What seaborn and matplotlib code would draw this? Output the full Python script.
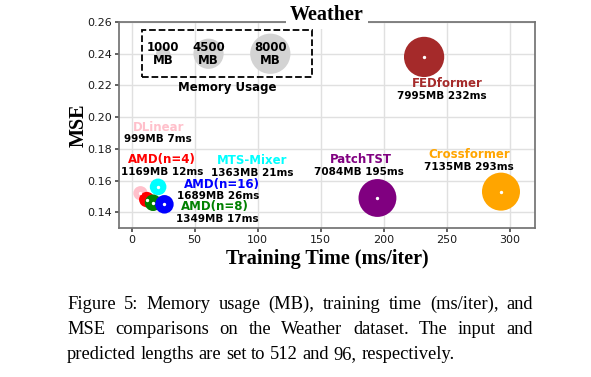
import pandas as pd
import seaborn as sns
import matplotlib.pyplot as plt
from matplotlib.patches import Rectangle

# data
models = ['FEDformer', 'PatchTST', 'Crossformer', 'DLinear',
          'AMD(n=4)', 'MTS-Mixer', 'AMD(n=8)', 'AMD(n=16)']
train_time = [232, 195, 293, 7, 12, 21, 17, 26]
mse = [0.238, 0.149, 0.153, 0.152, 0.148, 0.156, 0.146, 0.145]
memory = [7995, 7084, 7135, 999, 1169, 1363, 1349, 1689]
colors = ['#a52a2a', '#800080', '#ffa500', '#ffc0cb',
          '#ff0000', '#00ffff', '#008000', '#0000ff']

legend_mem = [1000, 4500, 8000]
legend_x = [25, 61, 110]
legend_y = 0.24

x_ticks = [0, 50, 100, 150, 200, 250, 300]
y_ticks = [0.14, 0.16, 0.18, 0.20, 0.22, 0.24, 0.26]

caption = ["Figure 5: Memory usage (MB), training time (ms/iter), and",
           "MSE comparisons on the Weather dataset. The input and",
           "predicted lengths are set to 512 and 96, respectively."]

# label offsets in points (name, detail)
name_off = [(17, -19), (-12, 28), (-23, 27), (13, 47.5),
            (11, 29), (68, 19), (44.5, -3), (41.5, 14.5)]
detail_off = [(13, -28), (-13, 19), (-23, 18), (12.5, 38.7),
              (11, 20), (67.5, 10), (46, -11.5), (39, 6)]

AREA = 0.105  # marker area (pt^2) per MB

df = pd.DataFrame({'model': models, 'time': train_time, 'mse': mse, 'mem': memory})

sns.set_theme(style='whitegrid', rc={
    'axes.edgecolor': '0.45', 'grid.color': '#e0e0e0',
    'xtick.bottom': True, 'ytick.left': True,
    'xtick.color': '0.3', 'ytick.color': '0.3',
    'xtick.major.size': 3, 'ytick.major.size': 3,
    'text.color': 'black', 'axes.labelcolor': 'black',
})
plt.rcParams['font.family'] = ['DejaVu Sans']

fig = plt.figure(figsize=(5.91, 3.77), dpi=100)
ax = fig.add_axes([0.2014, 0.395, 0.7039, 0.5465])

sns.scatterplot(data=df, x='time', y='mse', hue='model', palette=colors,
                size='mem', sizes=(0, 8000 * AREA), size_norm=(0, 8000),
                linewidth=0, alpha=1, legend=False, ax=ax, zorder=3)
ax.scatter(df['time'], df['mse'], s=2, c='white', zorder=4)

# memory usage legend
ax.scatter(legend_x, [legend_y] * 3, s=[m * AREA for m in legend_mem],
           c='lightgray', linewidths=0, zorder=3)
for lx, m in zip(legend_x, legend_mem):
    ax.text(lx, legend_y, f'{m}\nMB', ha='center', va='center',
            fontsize=8.5, fontweight='bold', linespacing=1.0, zorder=5)
ax.add_patch(Rectangle((8, 0.2252), 135, 0.03, fill=False, ls='--',
                       lw=1.3, ec='black', zorder=5))
ax.text(75.5, 0.2189, 'Memory Usage', ha='center', va='center',
        fontsize=8.5, fontweight='bold')

for i, row in df.iterrows():
    ax.annotate(row['model'], (row['time'], row['mse']), xytext=name_off[i],
                textcoords='offset points', ha='center', va='center',
                fontsize=8.5, fontweight='bold', color=colors[i], zorder=6)
    ax.annotate(f"{row['mem']}MB {row['time']}ms", (row['time'], row['mse']),
                xytext=detail_off[i], textcoords='offset points',
                ha='center', va='center', fontsize=7.5, fontweight='bold',
                color='black', zorder=6)

ax.set_xlim(-10, 320)
ax.set_ylim(0.13, 0.26)
ax.set_xticks(x_ticks)
ax.set_yticks(y_ticks)
ax.set_xticklabels([str(t) for t in x_ticks], fontsize=8)
ax.set_yticklabels([f'{t:.2f}' for t in y_ticks], fontsize=8)
ax.tick_params(pad=2, labelcolor='0.1')

serif = ['Liberation Serif', 'DejaVu Serif']
ax.set_xlabel('Training Time (ms/iter)', family=serif, fontweight='bold',
              fontsize=14.5, labelpad=3)
ax.set_ylabel('MSE', family=serif, fontweight='bold', fontsize=14.5, labelpad=-1)
ax.set_title('Weather', family=serif, fontweight='bold', fontsize=14.5,
             y=1.0, pad=1.5,
             bbox=dict(boxstyle='square,pad=0.2', fc='white', ec='none'),
             zorder=10)

# justified caption
W = fig.get_figwidth() * fig.dpi
renderer = fig.canvas.get_renderer()
x0, x1 = 67 / W, 533 / W
baselines = [1 - 309 / 377, 1 - 334 / 377, 1 - 359 / 377]
for k, (line, yb) in enumerate(zip(caption, baselines)):
    words = line.split()
    texts = [fig.text(0, yb, w, family=serif, fontsize=13.3, va='baseline',
                      color='black') for w in words]
    widths = [t.get_window_extent(renderer).width for t in texts]
    if k < len(caption) - 1:
        gap = ((x1 - x0) * W - sum(widths)) / (len(words) - 1)
    else:
        gap = texts[0].get_fontsize() * 0.25 * fig.dpi / 72
    pos = x0 * W
    for t, w in zip(texts, widths):
        t.set_x(pos / W)
        pos += w + gap

fig.savefig('out.png', dpi=100)
